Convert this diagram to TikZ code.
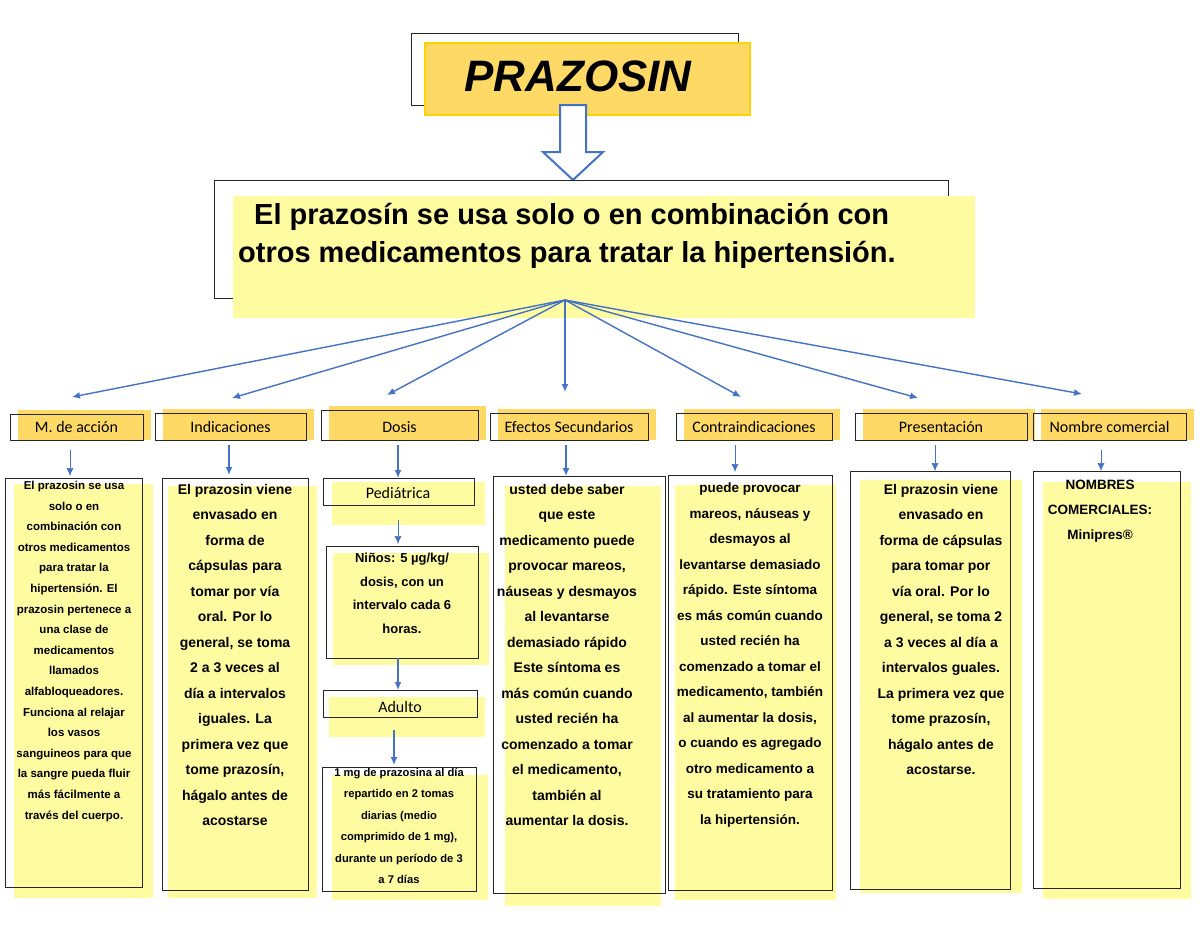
\documentclass[tikz,border=0pt]{standalone}
\usepackage{fontspec}
\setmainfont{Liberation Sans}
\newfontfamily\hdfont{Carlito}
\definecolor{ablue}{HTML}{4472C4}
\definecolor{lyel}{HTML}{FFFBA0}
\definecolor{gyel}{HTML}{FFD966}
\begin{document}
\begin{tikzpicture}[x=1pt,y=-1pt,
  blk/.style={draw=black!85,line width=1pt},
  yel/.style={fill=lyel,draw=none},
  hyel/.style={fill=gyel,draw=none},
  arr/.style={draw=ablue,line width=1.4pt,-{Latex[length=8pt,width=7pt]}},
  body/.style={anchor=north,align=center,font=\fontsize{14}{25.5}\selectfont\bfseries,inner sep=0pt},
  hd/.style={font=\hdfont\fontsize{16}{18}\selectfont,inner sep=0pt}]
\usetikzlibrary{arrows.meta}
\useasboundingbox (0,0) rectangle (1200,927);
\fill[white] (0,0) rectangle (1200,927);
% title
\draw[blk] (411,33) rectangle (738,105);
\filldraw[fill=gyel,draw=yellow!70!orange,line width=2.5pt] (425,43) rectangle (750,115);
\node[font=\fontsize{44}{46}\selectfont\bfseries\itshape] (title) at (578,76) {PRAZOSIN};
% hollow arrow
\draw[draw=ablue,line width=2pt,fill=white] (560,105)--(586,105)--(586,152)--(603,152)--(573,180)--(543,152)--(560,152)--cycle;
% main
\draw[blk] (214,180) rectangle (948,298);
\fill[yel] (233,196) rectangle (975,318);
\node[anchor=west,font=\fontsize{29}{38}\selectfont\bfseries,align=left,inner sep=0pt] (main) at (238,236)
 {\hspace*{16pt}El prazosín se usa solo o en combinación con\\otros medicamentos para tratar la hipertensión.};
\coordinate (hub) at (565,300);
% headers
\def\hdr#1#2#3#4#5{%
 \fill[hyel] (#2+8,#3-4) rectangle (#4+8,440);
 \draw[blk] (#2,#3) rectangle (#4,440);
 \node[hd] (#1) at ({(#2+#4)/2},427) {#5};}
\hdr{h1}{10}{414}{143}{M. de acción}
\hdr{h2}{155}{413}{306}{Indicaciones}
\hdr{h3}{321}{410}{478}{Dosis}
\hdr{h4}{490}{413}{648}{Efectos Secundarios}
\hdr{h5}{676}{413}{832}{Contraindicaciones}
\hdr{h6}{855}{413}{1027}{Presentación}
\hdr{h7}{1033}{413}{1186}{Nombre comercial}
\foreach \n/\x/\y in {h1/72/397,h2/232/398,h3/387/395,h4/565/392,h5/741/397,h6/918/398,h7/1082/394}
  \draw[arr] (hub) -- (\x,\y);
% content boxes
\fill[yel] (14,484) rectangle (153,898); \draw[blk] (5,478) rectangle (142,887);
\fill[yel] (168,486) rectangle (317,898); \draw[blk] (162,478) rectangle (308,890);
\fill[yel] (332,482) rectangle (485,525); \draw[blk] (323,478) rectangle (474,505);
\fill[yel] (333,553) rectangle (489,665); \draw[blk] (326,546) rectangle (478,658);
\fill[yel] (329,697) rectangle (485,737); \draw[blk] (323,690) rectangle (477,717);
\fill[yel] (332,775) rectangle (488,900); \draw[blk] (322,767) rectangle (476,891);
\fill[yel] (505,486) rectangle (661,906); \draw[blk] (493,476) rectangle (665,893);
\fill[yel] (675,485) rectangle (836,900); \draw[blk] (668,475) rectangle (832,890);
\fill[yel] (860,480) rectangle (1022,893); \draw[blk] (850,471) rectangle (1010,889);
\fill[yel] (1043,482) rectangle (1191,899); \draw[blk] (1033,471) rectangle (1180,888);
\node[body,font=\fontsize{11.5}{20.6}\selectfont\bfseries] (c1) at (74,481) {El prazosin se usa\\solo o en\\combinación con\\otros medicamentos\\para tratar la\\hipertensión. El\\prazosin pertenece a\\una clase de\\medicamentos\\llamados\\alfabloqueadores.\\Funciona al relajar\\los vasos\\sanguineos para que\\la sangre pueda fluir\\más fácilmente a\\través del cuerpo.};
\node[body] (c2) at (235,484) {El prazosin viene\\envasado en\\forma de\\cápsulas para\\tomar por vía\\oral. Por lo\\general, se toma\\2 a 3 veces al\\día a intervalos\\iguales. La\\primera vez que\\tome prazosín,\\hágalo antes de\\acostarse};
\node[hd] (ped) at (398,493) {Pediátrica};
\node[body,font=\fontsize{13}{23.5}\selectfont\bfseries] (nin) at (402,553) {Niños: 5 µg/kg/\\dosis, con un\\intervalo cada 6\\horas.};
\node[hd] (adu) at (400,707) {Adulto};
\node[body,font=\fontsize{11.2}{21.5}\selectfont\bfseries] (adt) at (399,768) {1 mg de prazosina al día\\repartido en 2 tomas\\diarias (medio\\comprimido de 1 mg),\\durante un período de 3\\a 7 días};
\node[body] (c4) at (567,484) {usted debe saber\\que este\\medicamento puede\\provocar mareos,\\náuseas y desmayos\\al levantarse\\demasiado rápido\\Este síntoma es\\más común cuando\\usted recién ha\\comenzado a tomar\\el medicamento,\\también al\\aumentar la dosis.};
\node[body,font=\fontsize{13.5}{25.5}\selectfont\bfseries] (c5) at (750,483) {puede provocar\\mareos, náuseas y\\desmayos al\\levantarse demasiado\\rápido. Este síntoma\\es más común cuando\\usted recién ha\\comenzado a tomar el\\medicamento, también\\al aumentar la dosis,\\o cuando es agregado\\otro medicamento a\\su tratamiento para\\la hipertensión.};
\node[body] (c6) at (941,484) {El prazosin viene\\envasado en\\forma de cápsulas\\para tomar por\\vía oral. Por lo\\general, se toma 2\\a 3 veces al día a\\intervalos guales.\\La primera vez que\\tome prazosín,\\hágalo antes de\\acostarse.};
\node[body,font=\fontsize{13.5}{25}\selectfont\bfseries] (c7) at (1100,480) {NOMBRES\\COMERCIALES:\\Minipres®};
% vertical arrows
\draw[arr,line width=0.6pt] (70,450) -- (70,476);
\draw[arr] (229,445) -- (229,475);
\draw[arr] (398,445) -- (398,478);
\draw[arr] (566,445) -- (566,476);
\draw[arr,line width=0.6pt] (735,445) -- (735,472);
\draw[arr,line width=0.6pt] (935,445) -- (935,471);
\draw[arr,line width=0.6pt] (1101,450) -- (1101,471);
\draw[arr,line width=0.5pt] (398,520) -- (398,544);
\draw[arr] (398,658) -- (398,690);
\draw[arr] (394,730) -- (394,765);
\end{tikzpicture}
\end{document}
